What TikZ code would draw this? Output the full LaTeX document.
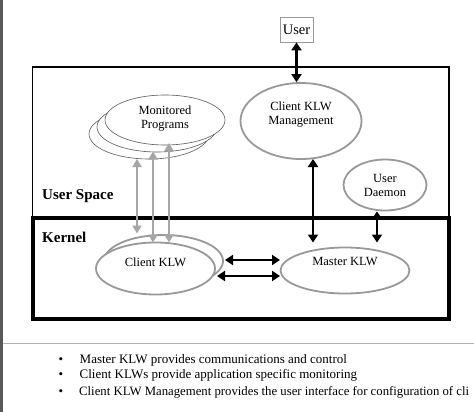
\documentclass[tikz,border=0pt]{standalone}
\usepackage{fontspec}
\setmainfont{Liberation Serif}
\usetikzlibrary{arrows.meta,shapes.geometric}
\newcommand{\mybul}{\makebox[21pt][l]{•}}
\begin{document}
\begin{tikzpicture}[x=1pt,y=-1pt,
 ell/.style={ellipse, draw=black!40, line width=1.8pt, fill=white, inner sep=0pt},
 progell/.style={ellipse, draw=black!65, line width=0.6pt, fill=white, inner sep=0pt, minimum width=120pt, minimum height=50pt},
 lbl/.style={font=\fontsize{12.5}{14.5}\selectfont, align=center, inner sep=0pt},
 blk/.style={line width=2.2pt, {Triangle[width=10pt,length=8pt]}-{Triangle[width=10pt,length=8pt]}},
 gry/.style={line width=2pt, draw=black!35, fill=black!35, {Triangle[width=9pt,length=8pt]}-{Triangle[width=9pt,length=8pt]}},
 bul/.style={font=\fontsize{13}{15}\selectfont, anchor=west, inner sep=0pt},
 space/.style={font=\fontsize{15}{17}\selectfont\bfseries, anchor=west, inner sep=0pt}]
\useasboundingbox (0,0) rectangle (474,412);
\fill[black!65] (0,0) rectangle (3,412);
\draw[black!30, line width=1pt] (3,343) -- (474,343);
% user space
\draw[line width=1.2pt] (32.5,67) rectangle (449,218);
% kernel
\draw[line width=4pt] (33,218) rectangle (449,318.5);
\node[space] (us) at (42,196) {User Space};
\node[space] (kn) at (42,237) {Kernel};
% user
\node[draw=black!40, line width=0.8pt, minimum width=33pt, minimum height=25pt, inner sep=0pt, font=\fontsize{14.5}{16}\selectfont] (user) at (296.5,29.5) {User};
% client KLW management
\node[ell, minimum width=121pt, minimum height=76pt] (cm) at (301,121) {};
\node[lbl] (cmt) at (301,114.5) {Client KLW\\Management};
% monitored programs
\node[progell] (mp3) at (149,134) {};
\node[progell] (mp2) at (157,127) {};
\node[progell] (mp1) at (165,120) {};
\node[lbl] (mpt) at (165,118.5) {Monitored\\Programs};
% user daemon
\node[ell, minimum width=83pt, minimum height=51pt] (ud) at (385,185) {};
\node[lbl] (udt) at (385,185.5) {User\\Daemon};
% client KLW
\node[ell, minimum width=119pt, minimum height=52pt] (ck2) at (163.5,261) {};
\node[ell, minimum width=119pt, minimum height=52pt] (ck1) at (155.5,268.5) {};
\node[lbl] (ckt) at (155.5,262) {Client KLW};
% master KLW
\node[ell, minimum width=129pt, minimum height=46pt] (mk) at (345,270.5) {};
\node[lbl] (mkt) at (345,262) {Master KLW};
% coordinates
\coordinate (a1) at (137,159);
\coordinate (a2) at (137,233.5);
\coordinate (b1) at (153,151.5);
\coordinate (b2) at (153,242.5);
\coordinate (c1) at (169,143);
\coordinate (c2) at (169,242.5);
\coordinate (d1) at (313,159);
\coordinate (d2) at (313,242.5);
\coordinate (e2) at (377,242.5);
\coordinate (f1) at (225,260);
\coordinate (f2) at (280,260);
\coordinate (g1) at (217,276);
\coordinate (g2) at (280,276);
% arrows
\draw[gry] (a1) -- (a2);
\draw[gry] (b1) -- (b2);
\draw[gry] (c1) -- (c2);
\draw[blk] (user.south) -- (user.south |- cm.north);
\draw[blk] (d1) -- (d2);
\draw[blk] (ud.south -| e2) -- (e2);
\draw[blk] (f1) -- (f2);
\draw[blk] (g1) -- (g2);
% bullets
\node[bul] (t1) at (58.5,360) {\mybul Master KLW provides communications and control};
\node[bul] (t2) at (58.5,375) {\mybul Client KLWs provide application specific monitoring};
\node[bul, font=\fontsize{12.75}{15}\selectfont] (t3) at (58.5,392) {\makebox[20.5pt][l]{\fontsize{13}{15}\selectfont •}Client KLW Management provides the user interface for configuration of cli};
\end{tikzpicture}
\end{document}
